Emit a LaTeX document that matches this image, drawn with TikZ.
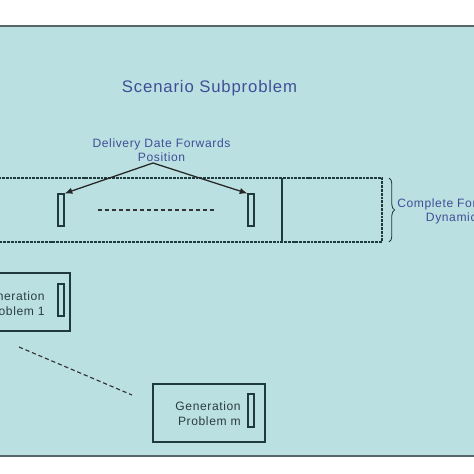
\documentclass[tikz,border=0pt]{standalone}
\usepackage{fontspec}
\setmainfont[LetterSpace=5]{Liberation Sans}
\usetikzlibrary{arrows.meta, positioning, calc, decorations.pathreplacing}

\definecolor{panelfill}{HTML}{BBE0E2}
\definecolor{rulegray}{HTML}{56676A}
\definecolor{labelblue}{HTML}{3F4F96}
\definecolor{linedark}{HTML}{1F3A3C}
\definecolor{textdark}{HTML}{2B3D40}

\begin{document}
\begin{tikzpicture}[
    x=0.025cm, y=-0.025cm,
    panel/.style={fill=panelfill},
    rule/.style={draw=rulegray, line width=1pt},
    headtext/.style={text=labelblue, font=\fontsize{11.9}{14}\selectfont, inner sep=0pt},
    note/.style={text=labelblue, font=\fontsize{8.6}{10}\selectfont, align=center, inner sep=0pt},
    genbox/.style={rectangle, draw=linedark, line width=0.9pt,
                   minimum width=2.8cm, minimum height=1.45cm},
    gentext/.style={text=textdark, font=\fontsize{8.6}{10.6}\selectfont, align=right, inner sep=0pt},
    marker/.style={rectangle, draw=linedark, line width=0.8pt, inner sep=0pt,
                   minimum width=0.15cm, minimum height=0.8cm},
    fwdbox/.style={draw=linedark, line width=0.9pt, dash pattern=on 2pt off 0.7pt},
    divider/.style={draw=linedark, line width=0.8pt},
    arrow/.style={-{Latex[length=5.5pt, width=4.5pt]}, line width=0.9pt, draw=black!85},
    gap/.style={densely dashed, line width=0.8pt, draw=black!80},
    brace/.style={decorate, decoration={brace, amplitude=4pt}, draw=linedark, line width=0.6pt},
]
\useasboundingbox (0,0) rectangle (474,474);

% Background panel
\fill[panel] (0,26) rectangle (474,456);
\draw[rule] (0,26) -- (474,26);
\draw[rule] (0,456) -- (474,456);

% Title
\node[headtext] (scen) at (209.5,88) {Scenario Subproblem};

% Forwards strip
\draw[fwdbox] (-5,178) rectangle (382,242);
\draw[divider] (282,178) -- (282,242);
\draw[brace] (389,178) -- (389,242);
\node[note, anchor=west] (fwdlabel) at (397,211.5) {Complete Forwards\\Dynamics};

% Delivery date positions
\node[marker] (posA) at (61,210) {};
\node[marker] (posB) at (251,210) {};
\draw[gap] ($(posA.east)+(33,0)$) -- ($(posB.west)+(-32,0)$);

\node[note] (dlabel) at (161.5,150) {Delivery Date Forwards\\Position};
\coordinate (apex) at (153,163);
\draw[arrow] (apex) -- (posA.north east);
\draw[arrow] (apex) -- (posB.north west);

% Generation problem 1
\node[genbox] (gen1) at (14,302) {};
\node[marker] (mk1) at (61,300) {};
\node[gentext, anchor=east] (gt1) at (45,304) {Generation\\Problem 1};

% Generation problem m
\node[genbox] (genm) at (209,413) {};
\node[marker, minimum height=0.825cm] (mkm) at (251,410.5) {};
\node[gentext, anchor=east] (gtm) at (241,414) {Generation\\Problem m};

% Dots between the generation problems
\coordinate (gapA) at (19,347);
\coordinate (gapB) at (132,395);
\draw[gap] (gapA) -- (gapB);

\end{tikzpicture}
\end{document}
